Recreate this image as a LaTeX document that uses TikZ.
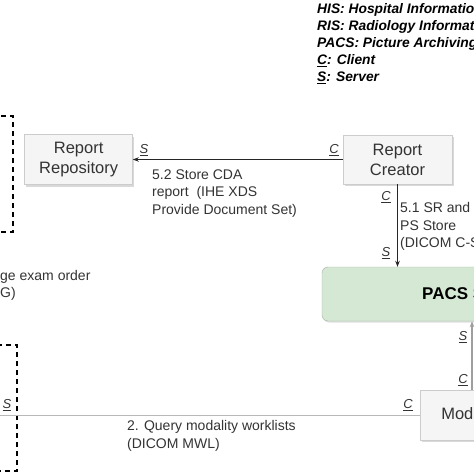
\documentclass[tikz,border=0pt]{standalone}
\usepackage{fontspec}
\setmainfont{Liberation Sans}
\usetikzlibrary{arrows.meta,positioning,shadows}

\definecolor{pacsfill}{RGB}{213,232,212}
\definecolor{pacsline}{RGB}{160,180,160}

\begin{document}
\begin{tikzpicture}[
     x=1pt, y=-1pt,
     >={Stealth[length=6pt,width=4.5pt]},
     box/.style={rectangle, draw=gray!40, fill=gray!8, text=black!80, align=center,
       minimum width=108pt, minimum height=50pt, font=\fontsize{16.5}{20}\selectfont,
       drop shadow={shadow xshift=1.5pt, shadow yshift=-2pt, opacity=.3}},
     store/.style={rectangle, rounded corners=6pt, draw=pacsline, fill=pacsfill,
       minimum width=304pt, minimum height=54pt, font=\fontsize{17}{20}\selectfont\bfseries,
       drop shadow={shadow xshift=1pt, shadow yshift=-1.5pt, opacity=.25}},
     group/.style={draw, line width=1.4pt, dash pattern=on 5pt off 4pt, minimum width=120pt},
     msg/.style={align=left, anchor=west, inner sep=0pt, text=black!80,
       font=\fontsize{14}{17.5}\selectfont},
     role/.style={inner sep=0pt, text=black!80, font=\fontsize{13}{13}\selectfont\itshape},
     legend/.style={align=left, anchor=west, inner sep=0pt,
       font=\fontsize{13.8}{17}\selectfont\bfseries\itshape}]

    \useasboundingbox (0,0) rectangle (474,474);
    \clip (0,0) rectangle (474,474);

    \node[legend] (legend) at (317,44) {HIS: Hospital Information System\\
      RIS: Radiology Information System\\
      PACS: Picture Archiving and Communication System\\
      \underline{C}: Client\\
      \underline{S}: Server};

    % groups off to the left
    \node[group, minimum height=116pt] (hisgroup) at (-47,174) {};
    \node[group, minimum height=126pt] (risgroup) at (-43,408) {};
    \coordinate (worklist) at (-40,415);

    \node[box, minimum width=109pt, minimum height=49pt] (creator) at (397.5,159.5) {Report\\Creator};

    \node[box] (repo) [left=210pt of creator] {Report\\Repository}
      edge [<-, draw=black!85, line width=0.8pt] (creator);

    \node[store] (pacs) at (474,294) {PACS Server};

    \node[box, minimum width=104pt] (modality) at (472,415) {Modality};

    \draw[->, draw=black!85, line width=0.8pt] (creator.south) -- (creator.south |- pacs.north);
    \draw[->, draw=gray!75, line width=1.6pt] (modality.north) -- (modality.north |- pacs.south);
    \draw[->, draw=gray!55, line width=0.9pt] (modality.west) -- (worklist);

    % client / server roles
    \node[role] (repoS) at (144,150) {\underline{S}};
    \node[role] (creatorC) at (334,150) {\underline{C}};
    \node[role] (creatorC2) at (386,197) {\underline{C}};
    \node[role] (pacsS) at (386,253) {\underline{S}};
    \node[role] (pacsS2) at (463,337) {\underline{S}};
    \node[role] (modalityC) at (463,380) {\underline{C}};
    \node[role] (modalityC2) at (408,405) {\underline{C}};
    \node[role] (risS) at (7,405) {\underline{S}};

    % messages
    \node[msg] (msgcda) at (152,193.5) {5.2 Store CDA\\report\ \ (IHE XDS\\Provide Document Set)};
    \node[msg] (msgsr) at (400,226.5) {5.1 SR and\\PS Store\\(DICOM C-STORE)};
    \node[msg] (msgorder) at (0,285.5) {ge exam order\\G)};
    \node[msg] (msgmwl) at (127,436) {2. Query modality worklists\\(DICOM MWL)};

  \end{tikzpicture}
\end{document}
